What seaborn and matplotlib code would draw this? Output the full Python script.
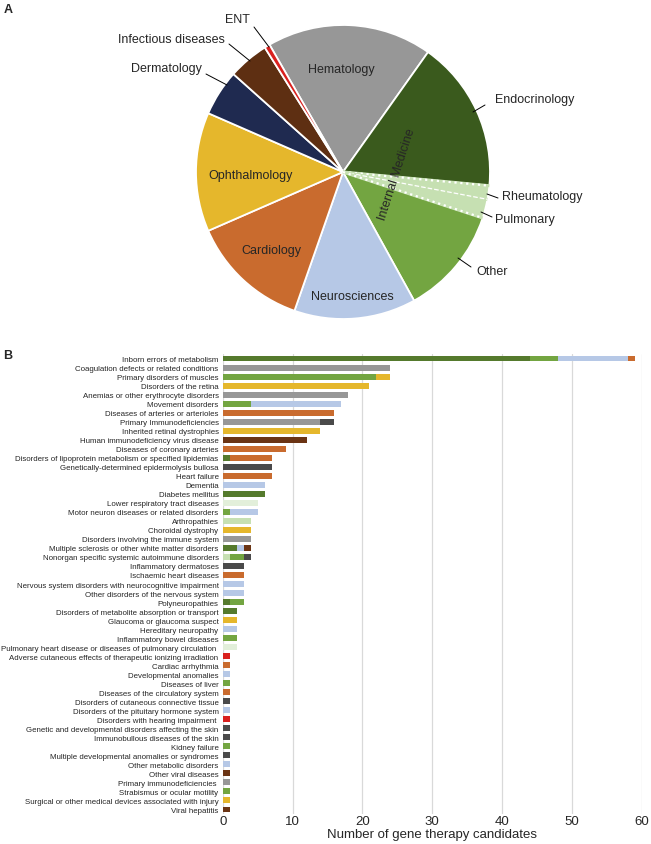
import numpy as np
import pandas as pd
import matplotlib
matplotlib.use('Agg')
import matplotlib.pyplot as plt
import seaborn as sns

# ============================================================
# DATA
# ============================================================

# disease categories, top to bottom
categories = [
    'Inborn errors of metabolism',
    'Coagulation defects or related conditions',
    'Primary disorders of muscles',
    'Disorders of the retina',
    'Anemias or other erythrocyte disorders',
    'Movement disorders',
    'Diseases of arteries or arterioles',
    'Primary Immunodeficiencies',
    'Inherited retinal dystrophies',
    'Human immunodeficiency virus disease',
    'Diseases of coronary arteries',
    'Disorders of lipoprotein metabolism or specified lipidemias',
    'Genetically-determined epidermolysis bullosa',
    'Heart failure',
    'Dementia',
    'Diabetes mellitus',
    'Lower respiratory tract diseases',
    'Motor neuron diseases or related disorders',
    'Arthropathies',
    'Choroidal dystrophy',
    'Disorders involving the immune system',
    'Multiple sclerosis or other white matter disorders',
    'Nonorgan specific systemic autoimmune disorders',
    'Inflammatory dermatoses',
    'Ischaemic heart diseases',
    'Nervous system disorders with neurocognitive impairment',
    'Other disorders of the nervous system',
    'Polyneuropathies',
    'Disorders of metabolite absorption or transport',
    'Glaucoma or glaucoma suspect',
    'Hereditary neuropathy',
    'Inflammatory bowel diseases',
    'Pulmonary heart disease or diseases of pulmonary circulation ',
    'Adverse cutaneous effects of therapeutic ionizing irradiation',
    'Cardiac arrhythmia',
    'Developmental anomalies',
    'Diseases of liver',
    'Diseases of the circulatory system',
    'Disorders of cutaneous connective tissue',
    'Disorders of the pituitary hormone system',
    'Disorders with hearing impairment ',
    'Genetic and developmental disorders affecting the skin',
    'Immunobullous diseases of the skin',
    'Kidney failure',
    'Multiple developmental anomalies or syndromes',
    'Other metabolic disorders',
    'Other viral diseases',
    'Primary immunodeficiencies ',
    'Strabismus or ocular motility',
    'Surgical or other medical devices associated with injury',
    'Viral hepatitis',
]

# bar segments (left to right) for each category: (specialty, count)
segments = [
    [('Endocrinology', 44), ('Other', 4), ('Neurosciences', 10), ('Cardiology', 1)],
    [('Hematology', 24)],
    [('Other', 22), ('Ophthalmology', 2)],
    [('Ophthalmology', 21)],
    [('Hematology', 18)],
    [('Other', 4), ('Neurosciences', 13)],
    [('Cardiology', 16)],
    [('Hematology', 14), ('Dermatology', 2)],
    [('Ophthalmology', 14)],
    [('Infectious diseases', 12)],
    [('Cardiology', 9)],
    [('Endocrinology', 1), ('Cardiology', 6)],
    [('Dermatology', 7)],
    [('Cardiology', 7)],
    [('Neurosciences', 6)],
    [('Endocrinology', 6)],
    [('Pulmonary', 5)],
    [('Other', 1), ('Neurosciences', 4)],
    [('Rheumatology', 4)],
    [('Ophthalmology', 4)],
    [('Hematology', 4)],
    [('Endocrinology', 2), ('Neurosciences', 1), ('Infectious diseases', 1)],
    [('Rheumatology', 1), ('Other', 2), ('Dermatology', 1)],
    [('Dermatology', 3)],
    [('Cardiology', 3)],
    [('Neurosciences', 3)],
    [('Neurosciences', 3)],
    [('Endocrinology', 1), ('Other', 2)],
    [('Endocrinology', 2)],
    [('Ophthalmology', 2)],
    [('Neurosciences', 2)],
    [('Other', 2)],
    [('Pulmonary', 2)],
    [('ENT', 1)],
    [('Cardiology', 1)],
    [('Neurosciences', 1)],
    [('Other', 1)],
    [('Cardiology', 1)],
    [('Dermatology', 1)],
    [('Neurosciences', 1)],
    [('ENT', 1)],
    [('Dermatology', 1)],
    [('Dermatology', 1)],
    [('Other', 1)],
    [('Dermatology', 1)],
    [('Neurosciences', 1)],
    [('Infectious diseases', 1)],
    [('Hematology', 1)],
    [('Other', 1)],
    [('Ophthalmology', 1)],
    [('Infectious diseases', 1)],
]

# pie order (clockwise from Hematology)
pie_order = ['Hematology', 'Endocrinology', 'Rheumatology', 'Pulmonary', 'Other',
             'Neurosciences', 'Cardiology', 'Ophthalmology', 'Dermatology',
             'Infectious diseases', 'ENT']

pie_colors = {
    'Hematology': '#979797', 'Endocrinology': '#3a5a1d', 'Rheumatology': '#c6e0b2',
    'Pulmonary': '#c6e0b2', 'Other': '#73a541', 'Neurosciences': '#b6c8e6',
    'Cardiology': '#c96b2e', 'Ophthalmology': '#e5b72c', 'Dermatology': '#1f2a50',
    'Infectious diseases': '#5e2f12', 'ENT': '#d9201e',
}
bar_colors = dict(pie_colors)
bar_colors.update({'Endocrinology': '#557a2d', 'Pulmonary': '#e2efda',
                   'Dermatology': '#4a4a4a', 'Infectious diseases': '#6b3414'})

# ============================================================
# TABLE
# ============================================================
rows = []
for cat, segs in zip(categories, segments):
    cum = 0
    for k, (spec, n) in enumerate(segs):
        cum += n
        rows.append({'category': cat, 'layer': k, 'specialty': spec,
                     'count': n, 'cum': cum})
df = pd.DataFrame(rows)

# pie values = totals per specialty
pie_values = df.groupby('specialty')['count'].sum().reindex(pie_order)

# ============================================================
# FIGURE
# ============================================================
sns.set_style('white')
plt.rcParams['font.family'] = ['Liberation Sans', 'DejaVu Sans']

fig = plt.figure(figsize=(6.51, 8.45), dpi=100)

H = 845
def P(x, y):
    # pixel position (from top-left) -> pie axes coords
    return x, H - y

# ---- A: pie ----
ax_pie = fig.add_axes([0, 505 / H, 1, 340 / H])
cx, cy = P(343, 173)
R = 147
wedges, _ = ax_pie.pie(pie_values.values,
                       colors=[pie_colors[s] for s in pie_order],
                       startangle=120, counterclock=False,
                       center=(cx, cy), radius=R,
                       wedgeprops=dict(edgecolor='white', linewidth=1.3))
ax_pie.set_xlim(0, 651)
ax_pie.set_ylim(505, 845)
ax_pie.axis('off')

# dotted borders inside internal medicine
cum = np.cumsum(pie_values.values) / pie_values.sum()
for i, ls in [(1, ':'), (2, '--'), (3, ':')]:
    ang = np.deg2rad(120 - 360 * cum[i])
    xs = [cx, cx + R * np.cos(ang)]
    ys = [cy, cy + R * np.sin(ang)]
    ax_pie.plot(xs, ys, color='#c6e0b2', lw=2.2, solid_capstyle='butt')
    ax_pie.plot(xs, ys, color='white', lw=1.6 if ls == ':' else 0.9, ls=ls)

inside = {'Hematology': (341, 70), 'Ophthalmology': (251, 176),
          'Cardiology': (271, 251), 'Neurosciences': (352, 297)}
for name, (x, y) in inside.items():
    ax_pie.text(*P(x, y), name, ha='center', va='center', fontsize=9)

outside = [
    ('ENT', (237, 20), (254, 28), (269, 48)),
    ('Infectious diseases', (171, 40), (229, 45), (250, 62)),
    ('Dermatology', (166, 69), (206, 75), (227, 86)),
    ('Endocrinology', (535, 100), (485, 106), (473, 113)),
    ('Rheumatology', (542, 197), (498, 199), (487, 195)),
    ('Pulmonary', (525, 220), (492, 218), (481, 213)),
    ('Other', (492, 272), (471, 268), (458, 259)),
]
for name, tpos, p1, p2 in outside:
    ax_pie.text(*P(*tpos), name, ha='center', va='center', fontsize=9)
    ax_pie.plot([P(*p1)[0], P(*p2)[0]], [P(*p1)[1], P(*p2)[1]],
                color='black', lw=0.7)

ax_pie.text(*P(397, 175), 'Internal Medicine', ha='center', va='center',
            fontsize=9, rotation=72)
fig.text(8 / 651, 1 - 10 / H, 'A', fontsize=9, fontweight='bold',
         ha='center', va='center')

# ---- B: stacked bars ----
ax_bar = fig.add_axes([222.7 / 651, 30 / H, 419 / 651, 460 / H])
n_layers = df['layer'].max() + 1
for k in reversed(range(n_layers)):
    layer = df[df['layer'] == k]
    pal = {c: bar_colors[s] for c, s in zip(layer['category'], layer['specialty'])}
    sns.barplot(data=layer, x='cum', y='category', hue='category',
                order=categories, hue_order=list(pal.keys()), palette=pal,
                legend=False, errorbar=None, saturation=1, width=0.66,
                linewidth=0, ax=ax_bar)

ax_bar.set_xlim(0, 60)
ax_bar.set_xticks(range(0, 61, 10))
ax_bar.xaxis.grid(True, color='#d9d9d9', lw=0.9)
ax_bar.set_axisbelow(True)
sns.despine(ax=ax_bar, left=True, bottom=True)
ax_bar.tick_params(axis='both', length=0)
ax_bar.tick_params(axis='y', labelsize=5.7, pad=3, labelcolor='#262626')
ax_bar.tick_params(axis='x', labelsize=9.5, pad=0.5, labelcolor='#262626')
ax_bar.set_ylabel('')
ax_bar.set_xlabel('Number of gene therapy candidates', fontsize=9.5,
                  color='#262626', labelpad=1)
fig.text(8 / 651, 1 - 356 / H, 'B', fontsize=9, fontweight='bold',
         ha='center', va='center')

fig.savefig('out.png', dpi=100)
